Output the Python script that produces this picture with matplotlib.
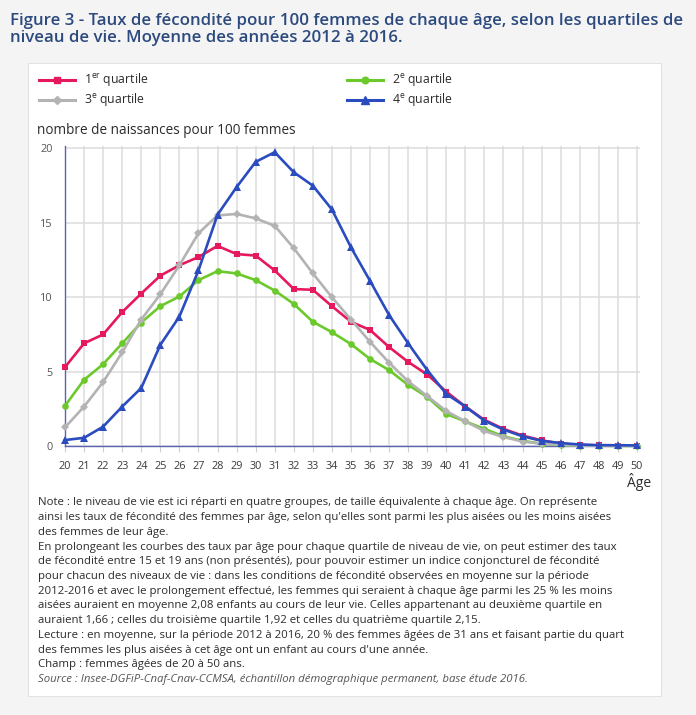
import matplotlib
matplotlib.use("Agg")
import matplotlib.pyplot as plt
from matplotlib.lines import Line2D
from matplotlib.patches import Rectangle

plt.rcParams['font.family'] = ['Open Sans', 'DejaVu Sans']
plt.rcParams['mathtext.fontset'] = 'custom'
plt.rcParams['mathtext.rm'] = 'Open Sans'
plt.rcParams['mathtext.it'] = 'Open Sans:italic'

# ---------------- data ----------------
ages = list(range(20, 51))
q1 = [5.3, 6.9, 7.5, 9.0, 10.25, 11.45, 12.15, 12.7, 13.45, 12.9, 12.8, 11.8, 10.55, 10.5, 9.4, 8.35,
      7.8, 6.65, 5.65, 4.8, 3.65, 2.65, 1.75, 1.15, 0.7, 0.38, 0.15, 0.07, 0.04, 0.03, 0.02]
q2 = [2.7, 4.45, 5.5, 6.9, 8.3, 9.4, 10.05, 11.15, 11.75, 11.6, 11.15, 10.45, 9.55, 8.35, 7.65, 6.85,
      5.85, 5.1, 4.1, 3.3, 2.15, 1.65, 1.15, 0.65, 0.35, 0.15, 0.05, 0.03, 0.02, 0.01, 0.01]
q3 = [1.25, 2.65, 4.3, 6.3, 8.5, 10.2, 12.15, 14.3, 15.5, 15.6, 15.3, 14.8, 13.3, 11.6, 10.0, 8.5,
      7.0, 5.6, 4.35, 3.35, 2.35, 1.65, 1.0, 0.6, 0.3, 0.15, 0.07, 0.03, 0.02, 0.01, 0.01]
q4 = [0.4, 0.55, 1.3, 2.65, 3.9, 6.8, 8.7, 11.8, 15.55, 17.4, 19.1, 19.75, 18.4, 17.5, 15.9, 13.35,
      11.1, 8.8, 6.9, 5.1, 3.5, 2.65, 1.7, 1.1, 0.65, 0.35, 0.2, 0.1, 0.06, 0.05, 0.04]
series_labels = ["1$^{\\mathrm{er}}$ quartile", "2$^{\\mathrm{e}}$ quartile",
                 "3$^{\\mathrm{e}}$ quartile", "4$^{\\mathrm{e}}$ quartile"]
y_ticks = [0, 5, 10, 15, 20]

title_lines = ["Figure 3 - Taux de fécondité pour 100 femmes de chaque âge, selon les quartiles de",
               "niveau de vie. Moyenne des années 2012 à 2016."]
y_label = "nombre de naissances pour 100 femmes"
x_label = "Âge"
note_lines = [
    "Note : le niveau de vie est ici réparti en quatre groupes, de taille équivalente à chaque âge. On représente",
    "ainsi les taux de fécondité des femmes par âge, selon qu'elles sont parmi les plus aisées ou les moins aisées",
    "des femmes de leur âge.",
    "En prolongeant les courbes des taux par âge pour chaque quartile de niveau de vie, on peut estimer des taux",
    "de fécondité entre 15 et 19 ans (non présentés), pour pouvoir estimer un indice conjoncturel de fécondité",
    "pour chacun des niveaux de vie : dans les conditions de fécondité observées en moyenne sur la période",
    "2012-2016 et avec le prolongement effectué, les femmes qui seraient à chaque âge parmi les 25 % les moins",
    "aisées auraient en moyenne 2,08 enfants au cours de leur vie. Celles appartenant au deuxième quartile en",
    "auraient 1,66 ; celles du troisième quartile 1,92 et celles du quatrième quartile 2,15.",
    "Lecture : en moyenne, sur la période 2012 à 2016, 20 % des femmes âgées de 31 ans et faisant partie du quart",
    "des femmes les plus aisées à cet âge ont un enfant au cours d'une année.",
    "Champ : femmes âgées de 20 à 50 ans.",
]
source_line = "Source : Insee-DGFiP-Cnaf-Cnav-CCMSA, échantillon démographique permanent, base étude 2016."

# ---------------- styles ----------------
W, H = 696, 715
colors = ["#e6195c", "#6cc92c", "#b3b3b3", "#2a4cbf"]
markers = ["s", "o", "D", "^"]
msizes = [4.5, 4.8, 4.0, 5.5]
title_color = "#2c4a7e"
text_color = "#2b2b2b"

fig = plt.figure(figsize=(W / 100, H / 100), dpi=100)
fig.patch.set_facecolor("#f4f4f4")


def fx(x):
    return x / W


def fy(y):
    return 1 - y / H


# white panel
fig.patches.append(Rectangle((fx(29), fy(697)), fx(633), fy(0) - fy(634),
                             transform=fig.transFigure, facecolor="#e6e6e6", edgecolor="none", zorder=-2))
fig.patches.append(Rectangle((fx(28), fy(696)), fx(633), fy(0) - fy(633),
                             transform=fig.transFigure, facecolor="white", edgecolor="#e2e2e2",
                             linewidth=0.8, zorder=-1))

# title
for i, t in enumerate(title_lines):
    fig.text(fx(10), fy(21 + i * 17.5), t, fontsize=12.2, fontweight="semibold", color=title_color,
             ha="left", va="center")

# legend (manual, row-major)
leg_pos = [(39, 80), (347, 80), (39, 100), (347, 100)]
for (lx, ly), c, m, ms, lab in zip(leg_pos, colors, markers, msizes, series_labels):
    fig.add_artist(Line2D([fx(lx), fx(lx + 36)], [fy(ly), fy(ly)], transform=fig.transFigure,
                          color=c, lw=2.2, marker=None))
    fig.add_artist(Line2D([fx(lx + 18)], [fy(ly)], transform=fig.transFigure, color=c,
                          marker=m, markersize=ms, lw=0))
    fig.text(fx(lx + 45), fy(ly), lab, fontsize=8.8, color=text_color, ha="left", va="center")

# axes
x0_px, x1_px = 65, 640
y0_px, y1_px = 446, 145.5
ax = fig.add_axes([fx(x0_px), fy(y0_px), fx(x1_px) - fx(x0_px), fy(y1_px) - fy(y0_px)])
ax.set_zorder(2)
ax.set_facecolor("white")
ax.set_xlim(20, 50.16)
ax.set_ylim(0, 20.2)

for vals, c, m, ms in zip([q1, q2, q3, q4], colors, markers, msizes):
    ax.plot(ages, vals, color=c, lw=1.9, marker=m, markersize=ms, markeredgewidth=0, zorder=3,
            clip_on=False)

ax.set_xticks(ages)
ax.set_xticklabels([str(a) for a in ages])
ax.set_yticks(y_ticks)
ax.set_yticklabels([str(v) for v in y_ticks])
ax.grid(True, color="#dcdcdc", lw=1.1)
ax.set_axisbelow(True)
ax.tick_params(axis="x", length=4, color="#cfcfcf", labelsize=7.8, labelcolor="#3a3a3a", pad=7)
ax.tick_params(axis="y", length=0, labelsize=7.8, labelcolor="#555555", pad=9)
for s in ["top", "right"]:
    ax.spines[s].set_visible(False)
for s in ["left", "bottom"]:
    ax.spines[s].set_color("#5c64b0")
    ax.spines[s].set_linewidth(1.0)

fig.text(fx(37), fy(131), y_label, fontsize=9.8, color=text_color, ha="left", va="center")
fig.text(fx(651), fy(482), x_label, fontsize=10, color=text_color, ha="right", va="center")

# notes
ny = 503
for i, t in enumerate(note_lines):
    fig.text(fx(38), fy(ny + i * 14.7), t, fontsize=8.2, color=text_color, ha="left", va="center")
fig.text(fx(38), fy(ny + len(note_lines) * 14.7), source_line, fontsize=8.2, color="#555555",
         style="italic", ha="left", va="center")

fig.savefig("out.png", dpi=100, facecolor=fig.get_facecolor())
